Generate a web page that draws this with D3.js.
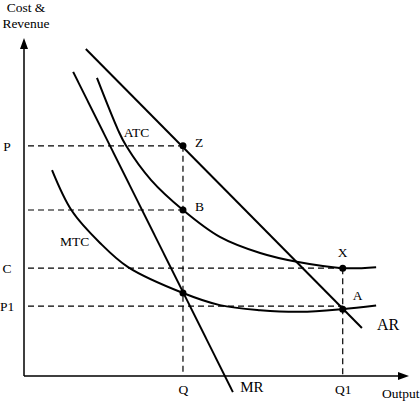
<!DOCTYPE html>
<html>
  <head>
    <meta charset="UTF-8">
    <style>
      html, body { margin: 0; padding: 0; background: #fff; }
      svg { display: block; }
    </style>
    <script src="https://d3js.org/d3.v7.min.js"></script>
  </head>
  <body>
    <div id="viz"></div>
    <script>
      // quantities on the output axis
      const qLabels = ["Q", "Q1"];
      const qValues = [41.4, 83.0];

      // prices / costs on the vertical axis
      const pLabels = ["P", "C", "P1"];
      const pValues = [68.5, 32.1, 20.8];
      const bLevel = 49.4; // unlabelled level through B

      // average revenue (demand) and marginal revenue, straight lines
      const arX = [16.1, 88.0];
      const arY = [97.3, 14.3];
      const mrX = [12.8, 54.4];
      const mrY = [90.5, -4.8];

      // average total cost curve
      const atcX = [19.0, 24.5, 26.6, 33.1, 41.4, 51.0, 61.5, 71.4, 82.8, 91.7];
      const atcY = [88.7, 73.2, 68.5, 58.3, 49.4, 41.4, 36.6, 33.9, 32.1, 32.4];

      // marginal total cost curve
      const mtcX = [7.3, 12.5, 19.8, 27.1, 41.4, 51.0, 61.5, 71.9, 82.8, 91.7];
      const mtcY = [61.3, 49.1, 39.6, 32.4, 24.7, 21.1, 19.6, 19.1, 19.9, 21.0];

      // marked points
      const ptNames = ["Z", "B", "", "X", "A"];
      const ptX = [41.4, 41.4, 41.4, 83.0, 83.0];
      const ptY = [68.5, 49.4, 24.7, 32.1, 19.9];

      const width = 420, height = 403;
      const x = d3.scaleLinear().domain([0, 100]).range([24, 408]);
      const y = d3.scaleLinear().domain([0, 100]).range([376, 40]);

      const svg = d3.select("#viz").append("svg")
          .attr("width", width)
          .attr("height", height)
          .attr("font-family", "'Liberation Serif', 'Times New Roman', serif")
          .attr("font-size", 13.5)
          .attr("fill", "#000");

      // dashed guides
      const guides = [
        [0, pValues[0], qValues[0], pValues[0]],
        [0, bLevel, qValues[0], bLevel],
        [0, pValues[1], qValues[1], pValues[1]],
        [0, pValues[2], qValues[1], pValues[2]],
        [qValues[0], pValues[0], qValues[0], 0],
        [qValues[1], pValues[1], qValues[1], 0]
      ];
      svg.append("g")
          .attr("stroke", "#000")
          .attr("stroke-width", 1.2)
          .attr("stroke-dasharray", "6,4")
        .selectAll("line")
        .data(guides)
        .join("line")
          .attr("x1", d => d[0] === 0 ? x(d[0]) + 4 : x(d[0]))
          .attr("y1", d => y(d[1]))
          .attr("x2", d => x(d[2]))
          .attr("y2", d => y(d[3]) - (d[3] === 0 ? 1 : 0));

      // axes
      const xAxis = svg.append("g")
          .attr("transform", `translate(0,${y(0)})`)
          .call(d3.axisBottom(x).tickValues(qValues)
            .tickFormat((d, i) => qLabels[i]).tickSize(0).tickPadding(8));
      const yAxis = svg.append("g")
          .attr("transform", `translate(${x(0)},0)`)
          .call(d3.axisLeft(y).tickValues(pValues)
            .tickFormat((d, i) => pLabels[i]).tickSize(0));
      [xAxis, yAxis].forEach(g => {
        g.select(".domain").remove();
        g.attr("font-family", null).attr("font-size", null);
        g.selectAll("text").attr("fill", "#000");
      });
      yAxis.selectAll("text")
          .attr("text-anchor", "middle")
          .attr("x", -17);

      svg.append("path")
          .attr("d", `M${x(0)},${y(0)}V${y(0) - 328}M${x(0)},${y(0)}H${x(0) + 376}`)
          .attr("stroke", "#000")
          .attr("stroke-width", 1.5)
          .attr("fill", "none");
      const yTop = y(0) - 338, xEnd = x(0) + 385;
      svg.append("path")
          .attr("d", `M${x(0)},${yTop}l-4,11h8z M${xEnd},${y(0)}l-11,-4v8z`)
          .attr("fill", "#000");

      svg.append("text").attr("x", 26).attr("y", 12)
          .attr("text-anchor", "middle").text("Cost &");
      svg.append("text").attr("x", 26).attr("y", 28)
          .attr("text-anchor", "middle").text("Revenue");
      svg.append("text").attr("x", 382).attr("y", 398).text("Output");

      // curves
      const line = d3.line().x(d => x(d[0])).y(d => y(d[1]));
      const curve = d3.line().x(d => x(d[0])).y(d => y(d[1])).curve(d3.curveCatmullRom);
      const series = [
        {gen: line, xs: arX, ys: arY},
        {gen: line, xs: mrX, ys: mrY},
        {gen: curve, xs: atcX, ys: atcY},
        {gen: curve, xs: mtcX, ys: mtcY}
      ];
      svg.append("g")
          .attr("fill", "none")
          .attr("stroke", "#000")
          .attr("stroke-width", 2)
        .selectAll("path")
        .data(series)
        .join("path")
          .attr("d", s => s.gen(d3.zip(s.xs, s.ys)));

      // curve labels
      const curveLabels = [
        {t: "ATC", x: 26.0, y: 71.0, size: 13.5},
        {t: "MTC", x: 9.4, y: 38.7, size: 13.5},
        {t: "AR", x: 91.9, y: 13.7, size: 16},
        {t: "MR", x: 56.3, y: -4.8, size: 15}
      ];
      svg.append("g")
        .selectAll("text")
        .data(curveLabels)
        .join("text")
          .attr("x", d => x(d.x))
          .attr("y", d => y(d.y))
          .attr("font-size", d => d.size)
          .text(d => d.t);

      // points and their letters
      svg.append("g")
        .selectAll("circle")
        .data(d3.range(ptX.length))
        .join("circle")
          .attr("cx", i => x(ptX[i]))
          .attr("cy", i => y(ptY[i]))
          .attr("r", 3.5);
      const offs = {Z: [12, 1], B: [12, 1], X: [0, -11], A: [10, -9]};
      svg.append("g")
        .selectAll("text")
        .data(d3.range(ptX.length).filter(i => ptNames[i]))
        .join("text")
          .attr("x", i => x(ptX[i]) + offs[ptNames[i]][0])
          .attr("y", i => y(ptY[i]) + offs[ptNames[i]][1])
          .attr("text-anchor", i => ptNames[i] === "X" ? "middle" : "start")
          .text(i => ptNames[i]);
    </script>
  </body>
</html>
